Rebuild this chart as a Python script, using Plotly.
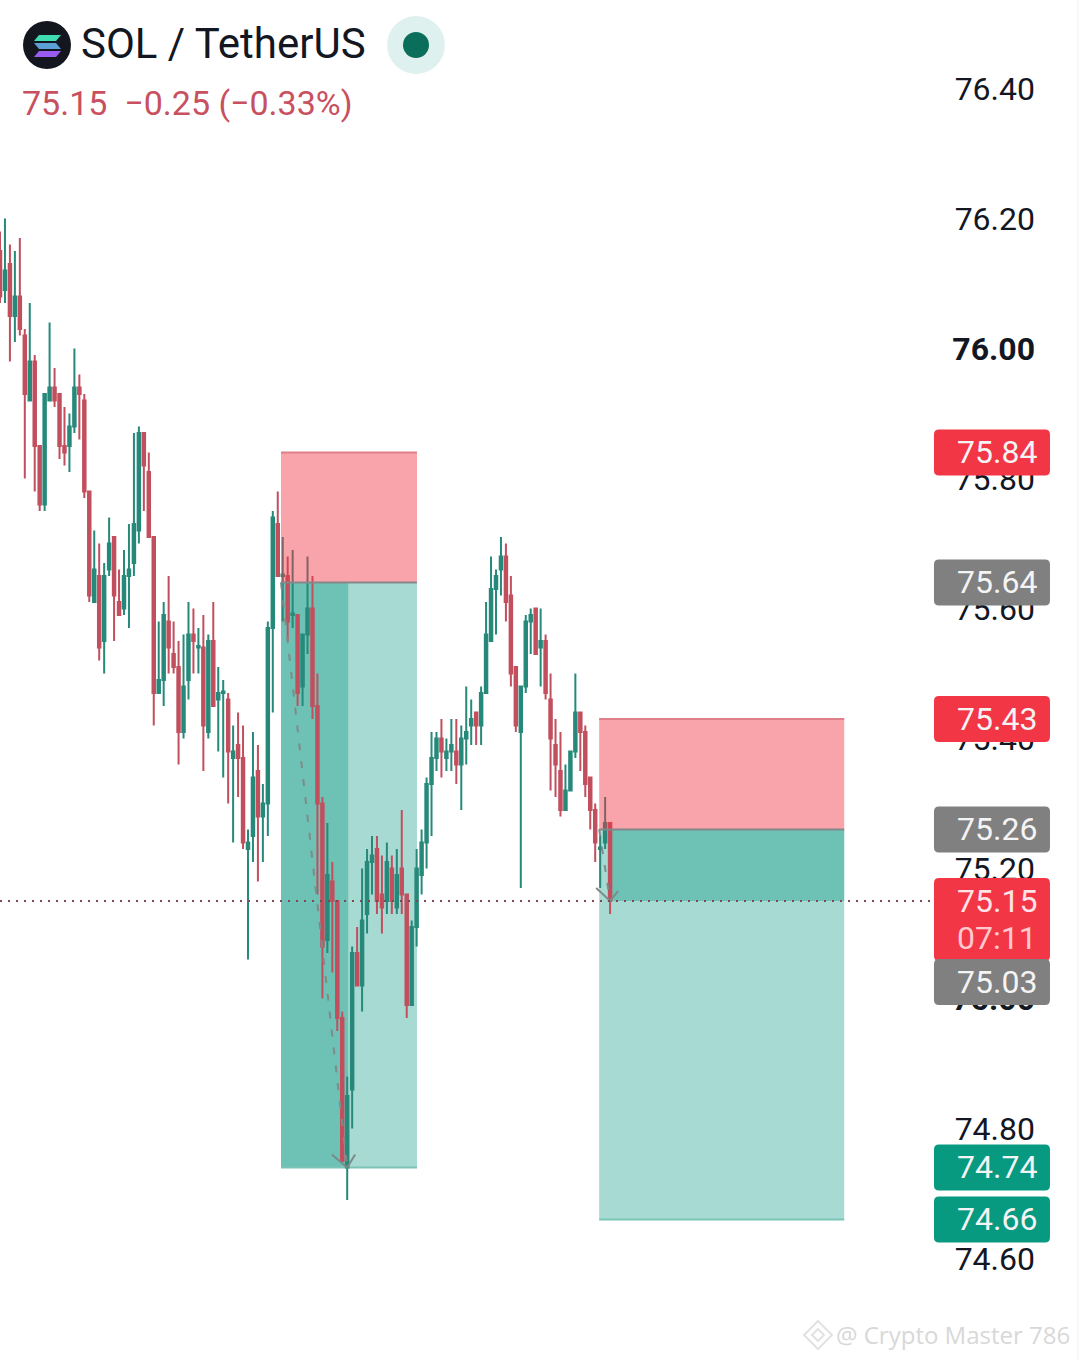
import plotly.graph_objects as go

WIDTH = 1080
HEIGHT = 1360

# one candle every 4.96 px, 650 px per 1.00 of price
X_MAX = 217.74
PRICE_MIN = 74.4437
PRICE_MAX = 76.536

opens = [
    76.15, 76.09, 76.13, 76.05, 76.08, 76.02, 75.92, 75.98, 75.85, 75.76,
    75.92, 75.94, 75.93, 75.85, 75.85, 75.88, 75.94, 75.92, 75.78, 75.61,
    75.65, 75.55, 75.66, 75.71, 75.61, 75.60, 75.65, 75.67, 75.72, 75.87,
    75.81, 75.71, 75.47, 75.49, 75.58, 75.53, 75.51, 75.41, 75.49, 75.56,
    75.54, 75.54, 75.41, 75.55, 75.46, 75.47, 75.46, 75.37, 75.39, 75.37,
    75.23, 75.25, 75.35, 75.28, 75.30, 75.57, 75.73, 75.65, 75.65, 75.59,
    75.59, 75.48, 75.56, 75.60, 75.45, 75.30, 75.09, 75.18, 75.15, 74.97,
    74.74, 74.86, 75.07, 75.02, 75.13, 75.21, 75.23, 75.16, 75.15, 75.20,
    75.14, 75.20, 75.16, 74.99, 75.11, 75.19, 75.24, 75.33, 75.37, 75.40,
    75.37, 75.38, 75.38, 75.36, 75.40, 75.42, 75.44, 75.42, 75.47, 75.55,
    75.63, 75.66, 75.68, 75.62, 75.51, 75.41, 75.48, 75.58, 75.60, 75.54,
    75.55, 75.46, 75.39, 75.35, 75.29, 75.32, 75.38, 75.44, 75.41, 75.34,
    75.29, 75.23, 75.24, 75.27,
]
highs = [
    76.18, 76.20, 76.16, 76.15, 76.17, 76.03, 76.07, 75.99, 75.85, 75.93,
    76.04, 75.97, 75.93, 75.91, 75.90, 76.00, 75.96, 75.93, 75.78, 75.72,
    75.70, 75.67, 75.74, 75.71, 75.66, 75.69, 75.73, 75.87, 75.88, 75.87,
    75.84, 75.71, 75.58, 75.61, 75.65, 75.58, 75.55, 75.56, 75.61, 75.60,
    75.57, 75.59, 75.56, 75.61, 75.51, 75.49, 75.47, 75.42, 75.44, 75.42,
    75.26, 75.41, 75.39, 75.33, 75.58, 75.75, 75.78, 75.71, 75.68, 75.69,
    75.59, 75.56, 75.68, 75.65, 75.50, 75.31, 75.27, 75.21, 75.15, 74.98,
    74.88, 75.08, 75.11, 75.20, 75.23, 75.25, 75.25, 75.22, 75.24, 75.22,
    75.23, 75.29, 75.16, 75.12, 75.23, 75.26, 75.34, 75.41, 75.41, 75.43,
    75.40, 75.43, 75.43, 75.42, 75.48, 75.46, 75.44, 75.48, 75.61, 75.68,
    75.66, 75.71, 75.70, 75.65, 75.51, 75.48, 75.59, 75.60, 75.60, 75.60,
    75.56, 75.50, 75.43, 75.41, 75.36, 75.38, 75.50, 75.44, 75.42, 75.34,
    75.30, 75.25, 75.31, 75.27,
]
lows = [
    76.07, 76.07, 75.98, 76.01, 76.02, 75.80, 75.92, 75.78, 75.75, 75.75,
    75.92, 75.91, 75.83, 75.82, 75.81, 75.87, 75.86, 75.77, 75.61, 75.61,
    75.52, 75.50, 75.65, 75.55, 75.59, 75.59, 75.57, 75.65, 75.70, 75.75,
    75.71, 75.42, 75.47, 75.45, 75.50, 75.50, 75.36, 75.40, 75.46, 75.50,
    75.50, 75.35, 75.40, 75.45, 75.38, 75.34, 75.30, 75.24, 75.31, 75.23,
    75.06, 75.21, 75.18, 75.21, 75.25, 75.44, 75.65, 75.58, 75.55, 75.57,
    75.45, 75.45, 75.53, 75.43, 75.16, 75.00, 75.07, 75.04, 74.95, 74.75,
    74.69, 74.80, 75.02, 74.98, 75.10, 75.16, 75.13, 75.10, 75.13, 75.13,
    75.13, 75.13, 74.97, 74.99, 75.08, 75.16, 75.20, 75.25, 75.35, 75.34,
    75.35, 75.35, 75.33, 75.29, 75.36, 75.39, 75.39, 75.39, 75.47, 75.55,
    75.56, 75.62, 75.58, 75.48, 75.41, 75.17, 75.47, 75.53, 75.53, 75.48,
    75.46, 75.32, 75.31, 75.28, 75.29, 75.32, 75.37, 75.35, 75.31, 75.26,
    75.21, 75.17, 75.23, 75.13,
]
closes = [
    76.08, 76.12, 76.05, 76.08, 76.03, 75.93, 75.98, 75.85, 75.76, 75.93,
    75.94, 75.92, 75.85, 75.84, 75.88, 75.94, 75.93, 75.78, 75.62, 75.66,
    75.54, 75.65, 75.70, 75.62, 75.59, 75.65, 75.66, 75.73, 75.87, 75.82,
    75.71, 75.47, 75.49, 75.59, 75.54, 75.51, 75.41, 75.48, 75.56, 75.55,
    75.542, 75.42, 75.55, 75.45, 75.47, 75.472, 75.38, 75.38, 75.37, 75.24,
    75.24, 75.34, 75.28, 75.30, 75.57, 75.74, 75.65, 75.652, 75.58, 75.592,
    75.47, 75.56, 75.60, 75.45, 75.30, 75.08, 75.19, 75.15, 74.97, 74.75,
    74.85, 75.07, 75.02, 75.12, 75.21, 75.22, 75.15, 75.14, 75.21, 75.15,
    75.19, 75.16, 74.99, 75.11, 75.20, 75.24, 75.33, 75.37, 75.40, 75.38,
    75.38, 75.39, 75.36, 75.40, 75.41, 75.43, 75.42, 75.47, 75.56, 75.63,
    75.65, 75.68, 75.61, 75.50, 75.42, 75.48, 75.58, 75.59, 75.53, 75.55,
    75.47, 75.40, 75.36, 75.29, 75.32, 75.38, 75.44, 75.41, 75.33, 75.29,
    75.24, 75.232, 75.27, 75.15,
]
candle_index = list(range(len(opens)))

tick_values = [76.40, 76.20, 76.00, 75.80, 75.60, 75.40, 75.20, 75.00, 74.80, 74.60]
tick_labels = ["76.40", "76.20", "<b>76.00</b>", "75.80", "75.60", "75.40", "75.20",
               "<b>75.00</b>", "74.80", "74.60"]

# the two short-position tools
box_left = [56.65, 120.8]
box_right = [84.07, 170.2]
box_stop = [75.84, 75.43]
box_entry = [75.64, 75.26]
box_target = [74.74, 74.66]
filled_left = [56.65, 123.2]
filled_right = [70.2, 170.2]
filled_high = [75.64, 75.26]
filled_low = [74.74, 75.15]

path_x = [[56.65, 70.0], [120.8, 123.0]]
path_y = [[75.64, 74.74], [75.26, 75.15]]
arrow_x = [[66.9, 70.0, 71.6], [120.2, 123.0, 124.6]]
arrow_y = [[74.76, 74.74, 74.76], [75.17, 75.15, 75.165]]

last_price = 75.15
line_end = 188.3

tag_prices = [75.84, 75.64, 75.43, 75.26, 75.15, 75.03, 74.74, 74.66]
tag_labels = ["75.84", "75.64", "75.43", "75.26", "75.15", "75.03", "74.74", "74.66"]
tag_colors = ["#f23645", "#808080", "#f23645", "#808080", "#f23645", "#808080", "#089981", "#089981"]

RED = "#c24f5e"
GREEN = "#26897a"


def rounded_tag(top, bottom, w=116, r=5):
    return (f"M {r} {top} L {w - r} {top} Q {w} {top} {w} {top - r} L {w} {bottom + r} "
            f"Q {w} {bottom} {w - r} {bottom} L {r} {bottom} Q 0 {bottom} 0 {bottom + r} "
            f"L 0 {top - r} Q 0 {top} {r} {top} Z")


def px(x):
    return x / WIDTH


def py(y):
    return 1 - y / HEIGHT


def paper_path(points):
    return "M " + " L ".join(f"{px(x):.5f} {py(y):.5f}" for x, y in points) + " Z"


fig = go.Figure()

fig.add_trace(go.Candlestick(
    x=candle_index, open=opens, high=highs, low=lows, close=closes,
    increasing=dict(line=dict(color=GREEN, width=2), fillcolor=GREEN),
    decreasing=dict(line=dict(color=RED, width=2), fillcolor=RED),
    whiskerwidth=0,
    hoverinfo="skip",
))

for xs, ys in zip(path_x, path_y):
    fig.add_trace(go.Scatter(x=xs, y=ys, mode="lines", hoverinfo="skip",
                             line=dict(color="#808a88", width=2, dash="7px,11px")))
for xs, ys in zip(arrow_x, arrow_y):
    fig.add_trace(go.Scatter(x=xs, y=ys, mode="lines", hoverinfo="skip",
                             line=dict(color="#7d8a88", width=2)))

shapes = []
for i in range(2):
    # teal sits under the candles, pink on top of them
    shapes.append(dict(type="rect", layer="below", x0=box_left[i], x1=box_right[i],
                       y0=box_target[i], y1=box_entry[i], line_width=0,
                       fillcolor="rgba(8,153,129,0.36)"))
    shapes.append(dict(type="rect", layer="below", x0=filled_left[i], x1=filled_right[i],
                       y0=filled_low[i], y1=filled_high[i], line_width=0,
                       fillcolor="rgba(8,153,129,0.36)"))
    shapes.append(dict(type="rect", layer="above", x0=box_left[i], x1=box_right[i],
                       y0=box_entry[i], y1=box_stop[i], line_width=0,
                       fillcolor="rgba(242,54,69,0.45)"))
    shapes.append(dict(type="line", layer="above", x0=box_left[i], x1=box_right[i],
                       y0=box_stop[i], y1=box_stop[i], line=dict(color="#de7f8a", width=2)))
    shapes.append(dict(type="line", layer="above", x0=box_left[i], x1=box_right[i],
                       y0=box_entry[i], y1=box_entry[i], line=dict(color="#84888a", width=2)))
    shapes.append(dict(type="line", layer="below", x0=box_left[i], x1=box_right[i],
                       y0=box_target[i], y1=box_target[i], line=dict(color="#7cc4b8", width=2)))

shapes.append(dict(type="line", layer="above", x0=0, x1=line_end, y0=last_price, y1=last_price,
                   line=dict(color="#7a4a50", width=2, dash="2px,6px")))

annotations = []
for price, label, color in zip(tag_prices, tag_labels, tag_colors):
    top, bottom, shift = 23, -23, 0
    if label == "75.15":
        bottom = -60
    if label == "75.03":
        top, bottom, shift = 20, -26, -3
    shapes.append(dict(type="path", layer="above", xref="x", yref="y",
                       xsizemode="pixel", ysizemode="pixel", xanchor=line_end, yanchor=price,
                       path=rounded_tag(top, bottom), fillcolor=color, line_width=0))
    annotations.append(dict(x=201.0, y=price, text=label, showarrow=False, yshift=shift,
                            font=dict(family="Roboto", size=32,
                                      color="#ffe3e6" if label == "75.15" else "#f4f4f4")))
annotations.append(dict(x=201.0, y=last_price, text="07:11", showarrow=False, yshift=-37,
                        font=dict(family="Roboto", size=32, color="#ffc9ce")))

# header
shapes.append(dict(type="circle", xref="paper", yref="paper", layer="above",
                   x0=px(23), x1=px(71), y0=py(69), y1=py(21), fillcolor="#14161f", line_width=0))
shapes.append(dict(type="path", xref="paper", yref="paper", layer="above", line_width=0,
                   fillcolor="#3fdcb4",
                   path=paper_path([(39, 35), (61, 35), (56, 41), (34, 41)])))
shapes.append(dict(type="path", xref="paper", yref="paper", layer="above", line_width=0,
                   fillcolor="#5c9fd6",
                   path=paper_path([(34, 43), (56, 43), (61, 49), (39, 49)])))
shapes.append(dict(type="path", xref="paper", yref="paper", layer="above", line_width=0,
                   fillcolor="#9a5cf0",
                   path=paper_path([(39, 51), (61, 51), (56, 57), (34, 57)])))
shapes.append(dict(type="circle", xref="paper", yref="paper", layer="above",
                   x0=px(387), x1=px(445), y0=py(74), y1=py(16), fillcolor="#dff1ee", line_width=0))
shapes.append(dict(type="circle", xref="paper", yref="paper", layer="above",
                   x0=px(403), x1=px(429), y0=py(58), y1=py(32), fillcolor="#0b6e5a", line_width=0))

# watermark diamond and the thin edge on the right
shapes.append(dict(type="path", xref="paper", yref="paper", layer="above", fillcolor="rgba(0,0,0,0)",
                   line=dict(color="#e2e2e2", width=2),
                   path=paper_path([(818, 1321), (832, 1335), (818, 1349), (804, 1335)])))
shapes.append(dict(type="path", xref="paper", yref="paper", layer="above", fillcolor="rgba(0,0,0,0)",
                   line=dict(color="#e2e2e2", width=2),
                   path=paper_path([(818, 1329), (824, 1335), (818, 1341), (812, 1335)])))
shapes.append(dict(type="line", xref="paper", yref="paper", layer="above",
                   x0=px(1078), x1=px(1078), y0=0, y1=1, line=dict(color="#f1f1f1", width=1)))

annotations.append(dict(xref="paper", yref="paper", x=px(79), y=py(44), xanchor="left", yanchor="middle",
                        text="SOL / TetherUS", showarrow=False,
                        font=dict(family="Roboto", size=42, color="#131722")))
annotations.append(dict(xref="paper", yref="paper", x=px(20), y=py(103), xanchor="left", yanchor="middle",
                        text="75.15\u00a0\u00a0\u22120.25 (\u22120.33%)", showarrow=False,
                        font=dict(family="Roboto", size=34, color="#c8505f")))
annotations.append(dict(xref="paper", yref="paper", x=px(1072), y=py(1334), xanchor="right", yanchor="middle",
                        text="@ Crypto Master 786", showarrow=False,
                        font=dict(family="Open Sans", size=24, color="#d8d8d8")))

fig.update_layout(
    width=WIDTH, height=HEIGHT,
    margin=dict(l=0, r=0, t=0, b=0),
    paper_bgcolor="white", plot_bgcolor="white",
    showlegend=False, boxgap=0.5, boxgroupgap=0,
    shapes=shapes, annotations=annotations,
    font=dict(family="Roboto"),
    xaxis=dict(range=[0, X_MAX], visible=False, rangeslider=dict(visible=False), fixedrange=True),
    yaxis=dict(range=[PRICE_MIN, PRICE_MAX], side="right", ticklabelposition="inside",
               ticklabelstandoff=42, tickmode="array", tickvals=tick_values, ticktext=tick_labels,
               tickfont=dict(family="Roboto", size=32, color="#131722"),
               showgrid=False, zeroline=False, showline=False, ticks="", fixedrange=True),
)

fig.write_html("out.html", config=dict(displayModeBar=False),
               post_script="document.body.style.margin='0';")
